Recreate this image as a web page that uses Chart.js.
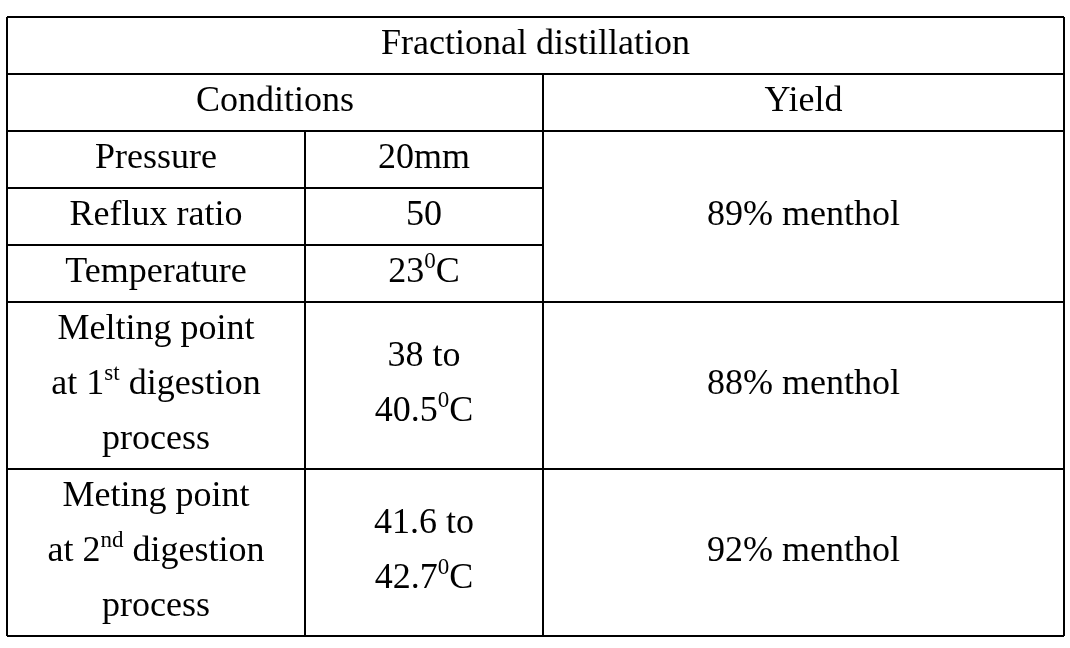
<!DOCTYPE html>
<html><head><meta charset="utf-8">
<script src="https://cdn.jsdelivr.net/npm/chart.js@4"></script>
<style>html,body{margin:0;padding:0;background:#fff}</style>
</head><body>
<canvas id="c" width="1070" height="648"></canvas>
<script>
const title = "Fractional distillation";
const headers = ["Conditions", "Yield"];
const conditionLabels = ["Pressure", "Reflux ratio", "Temperature", "Melting point|at 1^{st} digestion|process", "Meting point|at 2^{nd} digestion|process"];
const conditionValues = ["20mm", "50", "23^{0}C", "38 to|40.5^{0}C", "41.6 to|42.7^{0}C"];
const yields = ["89% menthol", "88% menthol", "92% menthol"];

// layout (pixel-unit scale coordinates)
const X = [7, 305, 543, 1064];
const Y = [17, 74, 131, 188, 245, 302, 469, 636];
const FS = 36, SUP = 23, LH = 55;

function drawRich(ctx, xs, ys, str, cx, cy) {
  const parts = [];
  const re = /\^\{([^}]*)\}/g; let last = 0, m;
  while ((m = re.exec(str))) { if (m.index > last) parts.push([str.slice(last, m.index), false]); parts.push([m[1], true]); last = re.lastIndex; }
  if (last < str.length) parts.push([str.slice(last), false]);
  const f = s => (s ? SUP : FS) + 'px "Liberation Serif", "Times New Roman", serif';
  let w = 0; parts.forEach(p => { ctx.font = f(p[1]); w += ctx.measureText(p[0]).width; });
  let x = xs.getPixelForValue(cx) - w / 2; const y = ys.getPixelForValue(cy);
  ctx.textAlign = 'left'; ctx.textBaseline = 'middle'; ctx.fillStyle = '#000';
  parts.forEach(p => { ctx.font = f(p[1]); ctx.fillText(p[0], x, p[1] ? y - 11 : y); x += ctx.measureText(p[0]).width; });
}
function drawCell(ctx, xs, ys, str, cx, cy) {
  const lines = str.split('|'); const n = lines.length;
  lines.forEach((l, i) => drawRich(ctx, xs, ys, l, cx, cy + (i - (n - 1) / 2) * LH));
}

const tablePlugin = {
  id: 'table',
  afterDraw(chart) {
    const ctx = chart.ctx, xs = chart.scales.x, ys = chart.scales.y;
    ctx.save(); ctx.strokeStyle = '#000'; ctx.lineWidth = 2;
    const seg = (x1, y1, x2, y2) => { ctx.beginPath(); ctx.moveTo(xs.getPixelForValue(x1), ys.getPixelForValue(y1)); ctx.lineTo(xs.getPixelForValue(x2), ys.getPixelForValue(y2)); ctx.stroke(); };
    seg(X[0], Y[0], X[3], Y[0]); seg(X[0], Y[1], X[3], Y[1]); seg(X[0], Y[2], X[3], Y[2]);
    seg(X[0], Y[3], X[2], Y[3]); seg(X[0], Y[4], X[2], Y[4]);
    seg(X[0], Y[5], X[3], Y[5]); seg(X[0], Y[6], X[3], Y[6]); seg(X[0], Y[7], X[3], Y[7]);
    seg(X[0], Y[0], X[0], Y[7]); seg(X[3], Y[0], X[3], Y[7]);
    seg(X[1], Y[2], X[1], Y[7]); seg(X[2], Y[1], X[2], Y[7]);
    drawCell(ctx, xs, ys, title, (X[0] + X[3]) / 2, (Y[0] + Y[1]) / 2 - 1);
    drawCell(ctx, xs, ys, headers[0], (X[0] + X[2]) / 2, (Y[1] + Y[2]) / 2 - 1);
    drawCell(ctx, xs, ys, headers[1], (X[2] + X[3]) / 2, (Y[1] + Y[2]) / 2 - 1);
    const rowTop = [Y[2], Y[3], Y[4], Y[5], Y[6]], rowBot = [Y[3], Y[4], Y[5], Y[6], Y[7]];
    conditionLabels.forEach((l, i) => {
      const cy = (rowTop[i] + rowBot[i]) / 2 - 1;
      drawCell(ctx, xs, ys, l, (X[0] + X[1]) / 2, cy);
      drawCell(ctx, xs, ys, conditionValues[i], (X[1] + X[2]) / 2, cy);
    });
    const yTop = [Y[2], Y[5], Y[6]], yBot = [Y[5], Y[6], Y[7]];
    yields.forEach((t, i) => drawCell(ctx, xs, ys, t, (X[2] + X[3]) / 2, (yTop[i] + yBot[i]) / 2 - 1));
    ctx.restore();
  }
};

new Chart(document.getElementById('c'), {
  type: 'scatter',
  data: { datasets: [{ data: [], pointRadius: 0 }] },
  options: {
    responsive: false, animation: false,
    layout: { padding: 0 },
    plugins: { legend: { display: false }, tooltip: { enabled: false } },
    scales: {
      x: { type: 'linear', min: 0, max: 1070, display: false },
      y: { type: 'linear', min: 0, max: 648, reverse: true, display: false }
    }
  },
  plugins: [tablePlugin]
});
</script>
</body></html>
